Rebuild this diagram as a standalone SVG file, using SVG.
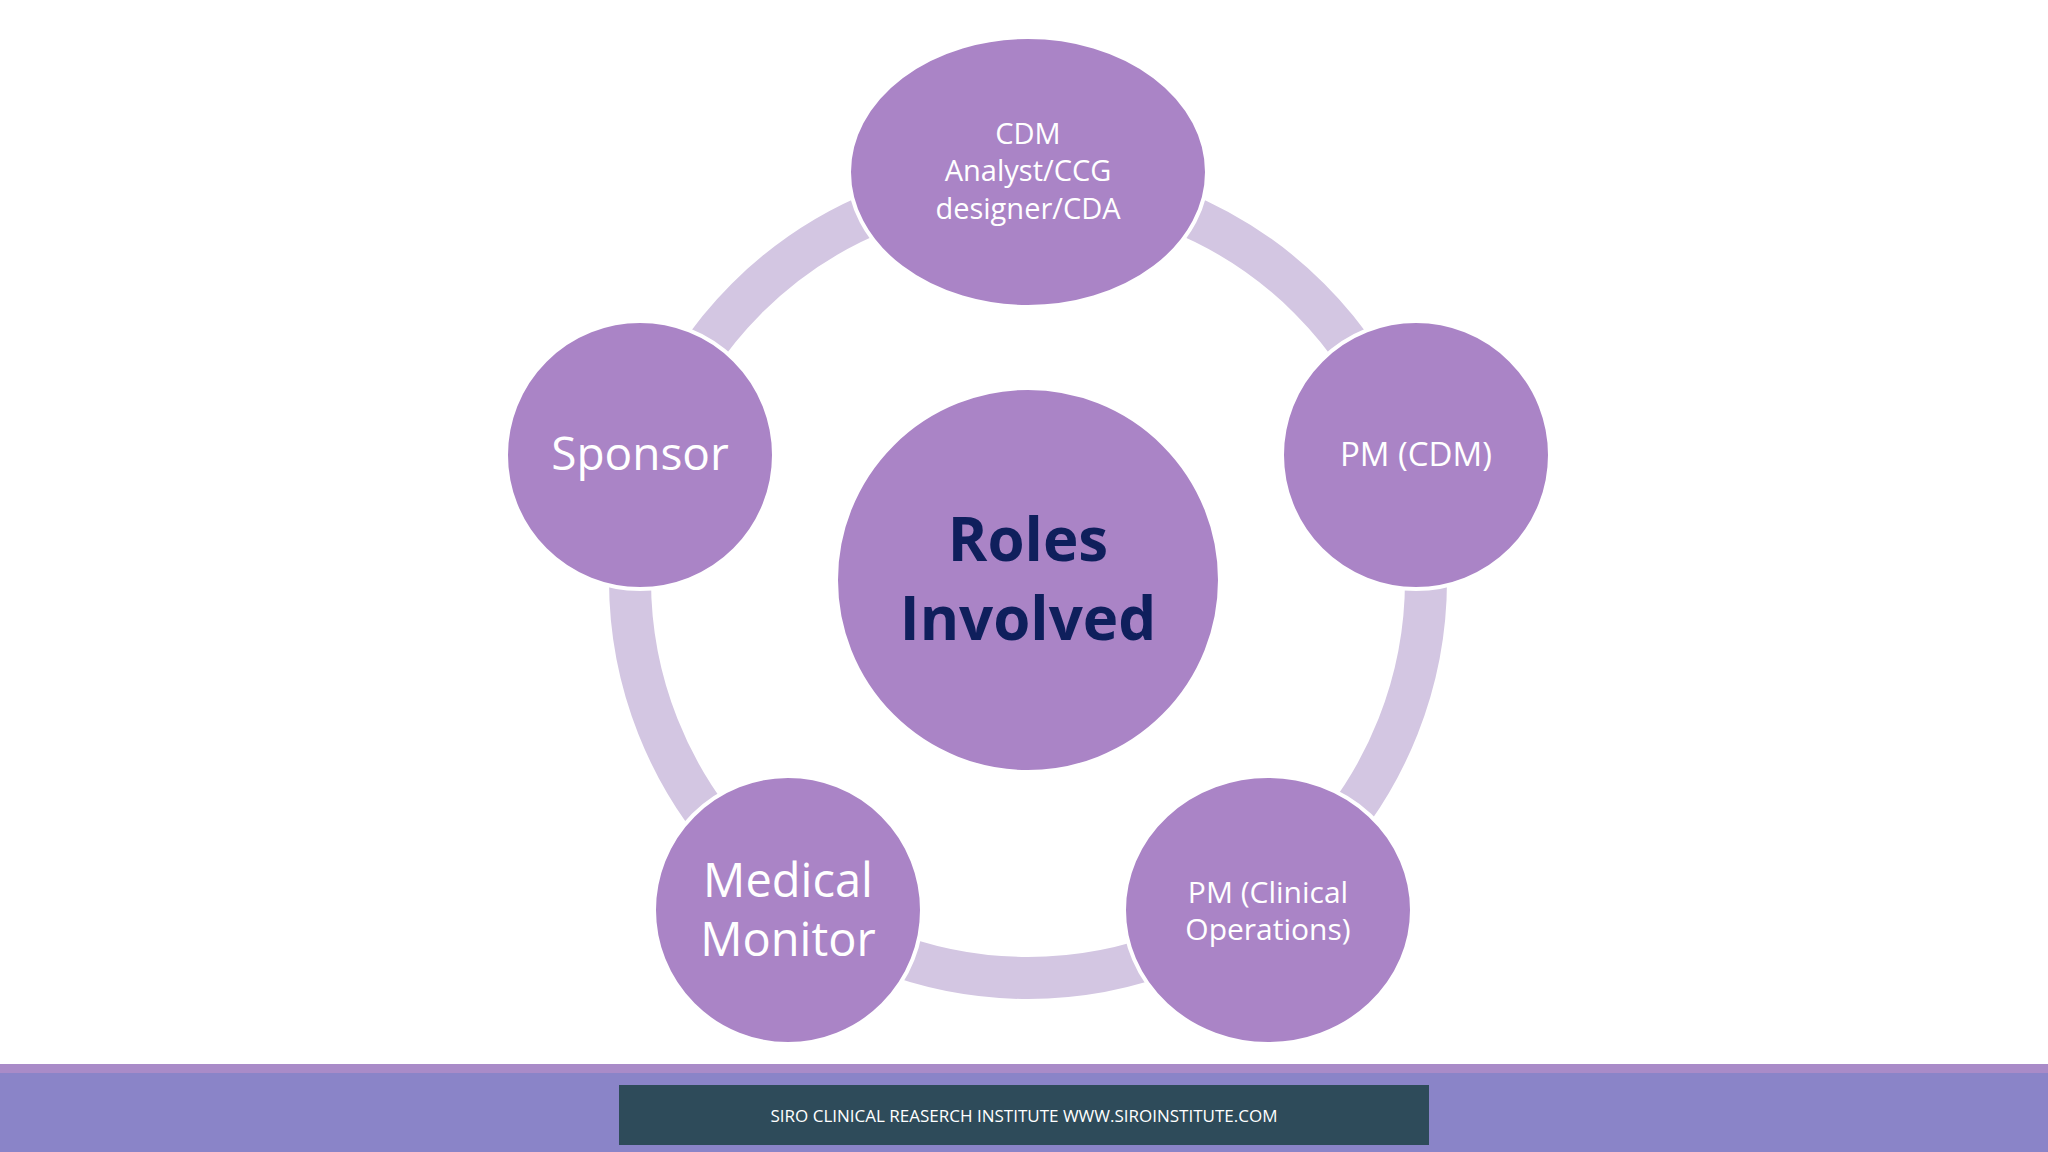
<svg xmlns="http://www.w3.org/2000/svg" width="2048" height="1152" viewBox="0 0 2048 1152">
<style>
.n{fill:#aa84c6;stroke:#fff;stroke-width:4}
.t{fill:#fff;font-family:"Open Sans","Noto Sans",sans-serif;text-anchor:middle}
</style>
<rect width="2048" height="1152" fill="#fff"/>
<g id="connectors"><circle cx="1028" cy="580" r="398" fill="none" stroke="#d3c6e2" stroke-width="42"/></g>
<g id="top"><ellipse class="n" cx="1028" cy="172" rx="179" ry="135"/>
<text class="t" font-size="29"><tspan x="1028" y="144">CDM</tspan><tspan x="1028" y="181">Analyst/CCG</tspan><tspan x="1028" y="219">designer/CDA</tspan></text></g>
<g id="sponsor"><circle class="n" cx="640" cy="455" r="134"/><text class="t" x="640" y="470" font-size="46">Sponsor</text></g>
<g id="pmcdm"><circle class="n" cx="1416" cy="455" r="134"/><text class="t" x="1416" y="466" font-size="33">PM (CDM)</text></g>
<g id="medical"><circle class="n" cx="788" cy="910" r="134"/><text class="t" font-size="47"><tspan x="788" y="897">Medical</tspan><tspan x="788" y="956">Monitor</tspan></text></g>
<g id="pmclin"><ellipse class="n" cx="1268" cy="910" rx="144" ry="134"/><text class="t" font-size="30"><tspan x="1268" y="903">PM (Clinical</tspan><tspan x="1268" y="940">Operations)</tspan></text></g>
<g id="center"><circle class="n" cx="1028" cy="580" r="192"/><text x="1028" font-size="60" font-weight="bold" fill="#0f1f5c" text-anchor="middle" font-family="'Open Sans','Noto Sans',sans-serif"><tspan x="1028" y="561">Roles</tspan><tspan x="1028" y="640">Involved</tspan></text></g>
<g id="footer"><rect x="0" y="1064" width="2048" height="9" fill="#a98bc8"/><rect x="0" y="1073" width="2048" height="79" fill="#8a84c8"/>
<rect x="619" y="1085" width="810" height="60" fill="#2e4b5a"/>
<text class="t" x="1024" y="1122" font-size="17">SIRO CLINICAL REASERCH INSTITUTE WWW.SIROINSTITUTE.COM</text></g>
</svg>
